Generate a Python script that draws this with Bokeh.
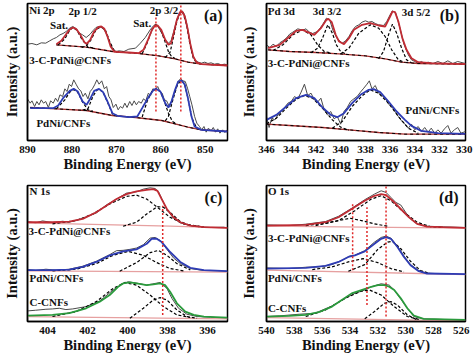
from bokeh.plotting import figure
from bokeh.models import Range1d, Label, SingleIntervalTicker, FixedTicker
from bokeh.layouts import row, column
from bokeh.embed import file_html
from bokeh.resources import INLINE

FONT = "Liberation Serif"
RED = "#c02c34"
BLUE = "#2e3cb4"
GREEN = "#2a9a3c"
GRAY = "#4a4a4a"
BG_RED = "#a83030"
PINK = "#e6a0a0"
VLINE = "#e02828"

# ---------------- Panel (a): Ni 2p ----------------
a1_raw = [(890.0,289),(889.0,291),(887.9,287),(886.9,293),(885.9,292),(885.0,299),(884.2,305),(883.5,309),(882.7,317),(882.0,321),(881.3,327),(880.5,337),(879.8,342),(879.0,335),(878.3,322),(877.6,317),(876.8,309),(875.9,319),(875.3,329),(874.6,339),(873.9,342),(873.1,337),(872.4,325),(871.6,297),(870.9,277),(870.1,267),(869.4,269),(868.3,267),(867.2,274),(865.7,277),(864.6,292),(863.5,309),(862.4,332),(861.6,345),(861.1,349),(860.5,339),(859.8,322),(859.0,302),(858.3,292),(857.7,299),(857.1,327),(856.4,362),(855.7,385),(855.2,389),(854.7,379),(854.2,352),(853.7,317),(853.1,267),(852.4,242),(851.6,235),(850.9,232),(850.1,235),(849.4,231),(848.7,233),(847.9,229),(847.2,231),(846.4,227),(845.7,229),(845.0,227)]
a1_fit = [(883.5,289),(882.4,299),(881.3,319),(880.5,333),(879.8,339),(879.0,334),(878.1,317),(877.2,295),(876.7,290),(875.9,302),(875.0,327),(874.0,341),(873.4,342),(872.7,335),(872.0,312),(871.3,282),(870.5,267),(869.4,265),(867.2,264),(865.0,262),(863.9,272),(862.9,302),(862.0,332),(861.3,345),(860.7,345),(859.9,332),(859.0,302),(858.3,287),(857.7,292),(857.1,322),(856.4,362),(855.7,385),(855.2,387),(854.6,372),(854.0,337),(853.4,292),(852.7,252),(852.0,235),(850.9,229),(847.9,227),(845.0,225)]
a1_bg = [(883.5,287),(876.8,280),(870.9,267),(865.7,262),(860.5,254),(856.8,245),(853.9,235),(850.9,229),(845.0,225)]
a1_comps = [
    [(883.1,287),(881.6,305),(880.5,331),(879.8,339),(878.9,331),(877.8,305),(876.4,281),(875.3,278)],
    [(877.8,279),(876.8,284),(875.7,302),(874.6,332),(873.4,342),(872.4,329),(871.5,297),(870.5,269),(869.8,266)],
    [(864.2,260),(863.1,292),(862.0,332),(861.1,347),(860.1,335),(859.2,302),(858.3,267),(857.6,252),(856.8,246)],
    [(859.0,249),(857.9,265),(857.2,307),(856.4,357),(855.6,385),(855.0,383),(854.2,347),(853.5,292),(852.7,247),(852.0,234)],
]
a2_raw = [(890.0,125),(889.4,112),(889.0,119),(888.4,102),(887.9,117),(887.4,107),(886.9,122),(886.4,112),(885.9,117),(885.3,99),(884.8,119),(884.2,112),(883.7,127),(883.2,117),(882.7,137),(882.1,132),(881.6,155),(881.1,147),(880.6,169),(880.1,162),(879.6,182),(879.0,167),(878.5,155),(878.0,149),(877.5,132),(877.0,142),(876.4,125),(875.9,147),(875.4,155),(874.9,167),(874.4,182),(873.9,169),(873.3,179),(872.7,155),(872.2,162),(871.7,132),(871.2,122),(870.7,99),(870.1,109),(869.6,92),(869.1,102),(868.6,97),(868.1,112),(867.6,99),(867.0,117),(866.5,105),(866.0,119),(865.5,107),(865.0,117),(864.4,112),(863.9,125),(863.4,119),(862.8,142),(862.3,135),(861.8,155),(861.3,152),(860.7,162),(860.2,147),(859.7,142),(859.2,122),(858.7,119),(858.1,102),(857.6,117),(857.1,139),(856.6,155),(856.1,177),(855.6,185),(855.0,179),(854.5,177),(854.0,157),(853.5,132),(853.0,107),(852.4,72),(851.9,52),(851.3,42),(850.8,32),(850.3,42),(849.8,25),(849.3,37),(848.7,29),(848.2,39),(847.7,25),(847.2,35),(846.7,22),(846.1,32),(845.6,24),(845.1,32)]
a2_fit = [(889.4,97),(884.2,97),(883.1,105),(882.0,127),(880.5,149),(879.6,155),(878.7,147),(877.6,117),(876.7,107),(875.9,125),(875.0,149),(873.9,155),(873.0,145),(872.0,117),(870.9,82),(869.8,74),(867.2,70),(865.3,72),(864.2,97),(862.7,132),(861.6,152),(861.1,155),(860.1,147),(859.0,112),(858.3,99),(857.6,117),(856.8,152),(856.1,177),(855.3,180),(854.6,167),(853.9,127),(853.1,72),(852.4,42),(850.9,32),(845.0,27)]
a2_bg = [(889.4,99),(883.5,95),(876.8,90),(870.9,75),(865.7,69),(859.8,60),(856.8,50),(853.9,40),(850.9,32),(845.0,27)]
a2_comps = [
    [(883.5,95),(881.6,122),(880.5,145),(879.6,153),(878.7,145),(877.6,115),(876.4,92),(875.3,88)],
    [(877.6,91),(876.4,95),(875.3,132),(874.4,151),(873.9,154),(873.0,145),(872.0,115),(870.9,80),(869.8,74)],
    [(864.2,70),(863.1,117),(862.0,147),(861.1,155),(860.1,147),(859.2,117),(858.3,82),(857.4,57),(856.4,49)],
    [(859.0,59),(858.3,72),(857.4,117),(856.4,162),(855.6,180),(854.7,172),(853.9,127),(853.0,67),(852.0,39)],
]
a_marks = [861.1, 855.5]
a_marks_lo = [87, 87]
a_marks_hi = [372, 411]

# ---------------- Panel (b): Pd 3d ----------------
b1_raw = [(346.00,287),(345.73,279),(345.47,289),(345.20,282),(344.93,293),(344.67,299),(344.40,307),(344.13,319),(343.87,325),(343.47,335),(343.07,331),(342.80,335),(342.53,325),(342.27,321),(341.87,327),(341.47,347),(341.15,367),(340.88,361),(340.61,329),(340.27,305),(339.87,292),(339.60,299),(339.33,312),(339.07,329),(338.80,342),(338.53,347),(338.27,355),(338.00,359),(337.73,355),(337.47,357),(337.20,351),(336.93,347),(336.53,345),(336.27,357),(336.00,377),(335.81,389),(335.55,383),(335.20,337),(334.88,289),(334.53,257),(334.27,242),(334.00,237),(333.73,231),(333.47,237),(333.20,231),(332.93,235),(332.53,231),(332.13,237),(331.73,231),(331.33,239),(330.93,231),(330.53,237),(329.90,231)]
b1_fit = [(345.87,277),(344.93,287),(344.13,312),(343.60,329),(343.07,332),(342.67,325),(342.13,317),(341.60,337),(341.15,362),(340.99,365),(340.72,355),(340.40,317),(340.13,297),(339.73,289),(339.33,307),(338.93,332),(338.27,347),(337.60,352),(336.93,345),(336.40,342),(336.00,372),(335.81,387),(335.60,385),(335.33,357),(335.01,307),(334.67,272),(334.27,247),(333.73,235),(332.67,232),(329.90,229)]
b1_bg = [(345.87,272),(344.13,267),(342.00,264),(340.13,260),(338.00,254),(336.40,245),(335.07,235),(333.73,231),(329.90,229)]
b1_comps = [
    [(345.47,270),(344.67,287),(343.87,317),(343.07,332),(342.40,317),(341.87,287),(341.33,267),(340.80,263)],
    [(342.40,263),(341.87,277),(341.47,307),(341.04,347),(340.67,322),(340.35,287),(340.00,267),(339.60,260)],
    [(340.00,260),(339.33,277),(338.53,322),(337.60,347),(336.93,337),(336.40,312),(335.87,272),(335.33,242),(334.80,234)],
    [(336.93,245),(336.53,267),(336.13,317),(335.81,349),(335.47,322),(335.07,277),(334.67,242),(334.27,233)],
]
b2_raw = [(346.00,72),(345.79,39),(345.57,67),(345.33,62),(345.07,77),(344.80,87),(344.53,99),(344.27,112),(344.00,117),(343.73,132),(343.47,125),(343.20,145),(342.93,169),(342.67,135),(342.40,142),(342.13,122),(341.87,115),(341.60,127),(341.33,92),(341.07,77),(340.80,87),(340.53,65),(340.27,72),(340.00,49),(339.73,87),(339.47,99),(339.20,117),(338.93,125),(338.67,132),(338.40,145),(338.13,157),(337.87,169),(337.68,179),(337.47,155),(337.20,165),(336.93,142),(336.67,135),(336.40,127),(336.13,109),(335.87,102),(335.60,87),(335.33,72),(335.07,59),(334.80,49),(334.53,37),(334.27,49),(334.00,32),(333.73,42),(333.47,27),(333.20,39),(332.93,25),(332.67,37),(332.40,22),(332.13,32),(331.87,22),(331.60,35),(331.33,45),(331.07,22),(330.80,32),(330.53,39),(330.27,22),(329.90,27)]
b2_fit = [(346.00,62),(345.20,77),(344.40,102),(343.60,127),(342.80,137),(342.13,127),(341.47,99),(340.80,77),(340.27,70),(339.73,82),(339.07,112),(338.40,137),(337.73,152),(337.33,154),(336.80,145),(336.13,117),(335.47,87),(334.80,62),(334.27,44),(333.47,29),(332.13,22),(329.90,20)]
b2_bg = [(346.00,49),(344.13,45),(341.47,39),(339.33,32),(336.93,24),(334.80,19),(329.90,19)]
b2_comps = [
    [(346.00,50),(345.20,67),(344.40,97),(343.60,124),(342.93,135),(342.27,127),(341.47,97),(340.67,62),(340.00,40),(339.33,31)],
    [(340.67,37),(339.87,57),(339.07,102),(338.27,134),(337.60,152),(336.93,142),(336.13,112),(335.33,72),(334.53,37),(333.73,22)],
]

# ---------------- Panel (c): N 1s ----------------
c1_raw = [(405.0,302),(404.59,298),(404.25,304),(403.75,299),(403.24,303),(402.91,300),(402.24,312),(401.56,328),(401.06,352),(400.55,370),(400.05,388),(399.55,392),(399.21,400),(398.87,404),(398.62,402),(398.45,392),(398.29,372),(398.03,338),(397.70,312),(397.36,298),(396.86,290),(396.35,287),(395.85,284),(395.18,285),(395.0,282)]
c1_fit = [(405.0,300),(403.75,300),(402.91,302),(402.24,310),(401.56,330),(401.06,350),(400.55,370),(400.05,385),(399.55,393),(399.04,398),(398.71,400),(398.50,395),(398.29,370),(398.03,340),(397.70,315),(397.36,300),(396.86,290),(396.18,285),(395.0,283)]
c1_bg = [(405.0,298),(401.22,293),(397.87,288),(395.0,283)]
c1_comps = [
    [(403.75,295),(402.57,305),(401.73,325),(400.89,355),(400.05,378),(399.55,382),(399.04,370),(398.50,345),(397.87,315),(397.19,295),(396.35,287)],
    [(400.22,288),(399.55,300),(399.04,325),(398.50,347),(398.20,345),(397.78,325),(397.36,302),(396.86,290),(396.18,285)],
]
c2_raw = [(405.0,157),(404.59,154),(404.08,158),(403.58,155),(402.91,158),(402.24,167),(401.56,182),(400.89,202),(400.55,214),(400.22,215),(399.88,218),(399.55,222),(399.21,232),(398.87,252),(398.62,254),(398.37,245),(398.03,218),(397.70,192),(397.36,175),(396.86,160),(396.18,154),(395.51,153),(395.0,151)]
c2_fit = [(405.0,155),(403.75,155),(402.91,157),(402.24,165),(401.56,180),(400.89,200),(400.22,212),(399.55,218),(399.04,235),(398.79,250),(398.54,250),(398.29,240),(397.87,210),(397.36,180),(396.86,162),(396.18,155),(395.0,152)]
c2_bg = [(405.0,153),(395.0,149)]
c2_comps = [
    [(403.75,153),(402.57,158),(401.56,175),(400.72,200),(399.97,212),(399.21,200),(398.54,178),(397.87,160),(397.19,153)],
    [(400.39,152),(399.55,178),(398.87,208),(398.45,215),(398.03,200),(397.53,175),(396.86,156)],
]
c3_raw = [(405.0,32),(404.59,34),(404.08,37),(403.75,38),(403.41,40),(403.08,36),(402.74,38),(402.07,45),(401.39,62),(400.72,95),(400.22,115),(399.97,120),(399.55,116),(399.04,110),(398.62,115),(398.37,118),(398.03,100),(397.78,70),(397.45,40),(397.03,22),(396.52,15),(395.85,13),(395.0,10)]
c3_fit = [(405.0,18),(403.75,20),(402.91,25),(402.07,40),(401.39,60),(400.89,80),(400.47,105),(400.22,115),(399.88,118),(399.55,115),(399.04,110),(398.71,112),(398.37,115),(398.12,110),(397.87,90),(397.53,55),(397.11,30),(396.69,20),(396.18,15),(395.0,12)]
c3_bg = [(405.0,15),(395.0,8)]
c3_comps = [
    [(403.75,15),(402.57,30),(401.56,60),(400.72,100),(400.13,118),(399.55,110),(398.87,80),(398.20,45),(397.53,20),(396.86,12)],
    [(399.88,10),(399.21,40),(398.71,65),(398.37,72),(398.03,65),(397.53,35),(397.03,15),(396.52,10)],
]
c_marks = [398.24]
c_marks_lo = [20]
c_marks_hi = [350]

# ---------------- Panel (d): O 1s ----------------
d1_raw = [(540.00,292),(538.35,290),(537.18,294),(535.76,302),(534.82,318),(533.88,342),(532.94,368),(532.24,385),(531.76,395),(531.41,390),(531.06,375),(530.71,360),(530.35,352),(530.00,330),(529.65,310),(529.18,295),(528.47,288),(527.29,286),(525.7,284)]
d1_fit = [(540.00,290),(537.18,292),(535.76,300),(534.82,315),(533.88,340),(532.94,365),(532.24,380),(531.76,385),(531.41,382),(530.94,365),(530.35,340),(529.76,315),(529.18,295),(528.47,287),(527.29,285),(525.7,283)]
d1_bg = [(540.00,288),(525.7,282)]
d1_comps = [
    [(537.18,290),(535.76,297),(534.82,305),(534.00,312),(533.18,305),(532.24,295),(531.29,288)],
    [(536.47,290),(534.82,305),(533.65,335),(532.47,370),(531.76,380),(531.06,365),(530.12,330),(529.18,300),(528.24,287),(527.29,284)],
]
d2_raw = [(540.00,162),(538.35,160),(537.18,164),(536.24,165),(535.29,172),(534.59,185),(534.00,198),(533.65,200),(532.94,214),(532.24,240),(531.76,254),(531.41,258),(531.06,252),(530.59,228),(530.12,198),(529.65,172),(529.06,154),(528.47,146),(527.29,144),(525.7,142)]
d2_fit = [(540.00,160),(537.18,162),(535.76,168),(534.82,180),(534.12,195),(533.65,200),(532.94,212),(532.24,235),(531.76,250),(531.41,255),(531.06,250),(530.59,225),(530.12,195),(529.65,170),(529.06,152),(528.47,145),(525.7,143)]
d2_bg = [(540.00,155),(525.7,142)]
d2_comps = [
    [(536.71,157),(535.29,165),(534.12,180),(533.06,190),(532.00,178),(531.06,160),(530.12,150)],
    [(534.12,152),(532.94,172),(532.00,218),(531.29,240),(530.94,242),(530.35,220),(529.65,182),(528.94,154),(528.24,145)],
]
d3_raw = [(540.00,15),(539.06,17),(537.65,22),(536.47,25),(536.24,30),(535.29,47),(534.35,70),(533.65,85),(532.94,95),(532.47,105),(531.76,114),(531.18,110),(530.82,95),(530.35,68),(529.88,40),(529.41,15),(528.71,8),(525.7,4)]
d3_fit = [(540.00,15),(538.35,17),(537.18,20),(536.24,28),(535.29,45),(534.59,65),(533.88,85),(533.18,95),(532.47,105),(532.00,110),(531.53,110),(531.18,105),(530.82,95),(530.35,70),(529.88,40),(529.41,18),(528.71,8),(525.7,5)]
d3_bg = [(540.00,12),(525.7,2)]
d3_comps = [
    [(537.18,15),(535.76,35),(534.35,70),(533.18,92),(532.59,95),(531.76,80),(530.82,45),(529.88,15),(528.94,5)],
    [(532.94,8),(532.24,30),(531.53,55),(531.06,60),(530.59,50),(529.88,20),(529.18,5)],
]
d_marks = [533.81, 532.78, 531.41]
d_marks_lo = [155, 50, 15]
d_marks_hi = [360, 345, 411]


def xs(pts):
    return [p[0] for p in pts]


def ys(pts):
    return [p[1] for p in pts]


def make_fig(xr, interval, width, height, left, right, top, bottom, ylab_standoff):
    p = figure(width=width, height=height, x_range=Range1d(*xr), y_range=Range1d(0, 411),
               output_backend="svg", toolbar_location=None,
               min_border_left=left, min_border_right=right,
               min_border_top=top, min_border_bottom=bottom)
    p.xgrid.visible = False
    p.ygrid.visible = False
    p.outline_line_color = "black"
    p.outline_line_width = 1.5
    p.outline_line_alpha = 1.0
    xa = p.xaxis[0]
    xa.ticker = SingleIntervalTicker(interval=interval, num_minor_ticks=0)
    xa.axis_label = "Binding Energy (eV)"
    xa.axis_label_text_font = FONT
    xa.axis_label_text_font_style = "bold"
    xa.axis_label_text_font_size = "14.5px"
    xa.axis_label_text_color = "#111111"
    xa.axis_label_standoff = 0
    xa.major_label_text_font = FONT
    xa.major_label_text_font_style = "bold"
    xa.major_label_text_font_size = "11px"
    xa.major_label_text_color = "#111111"
    xa.major_label_standoff = 5
    xa.major_tick_in = 0
    xa.major_tick_out = 0
    xa.minor_tick_in = 0
    xa.minor_tick_out = 0
    xa.axis_line_width = 1.5
    ya = p.yaxis[0]
    ya.ticker = FixedTicker(ticks=[])
    ya.axis_label = "Intensity (a.u.)"
    ya.axis_label_text_font = FONT
    ya.axis_label_text_font_style = "bold"
    ya.axis_label_text_font_size = "14.5px"
    ya.axis_label_text_color = "#111111"
    ya.axis_label_standoff = ylab_standoff
    ya.major_label_standoff = 0
    ya.major_tick_in = 0
    ya.major_tick_out = 0
    ya.axis_line_width = 1.5
    return p


def spectrum(p, raw, fit, bg, comps, color, dark_bg):
    p.line(xs(raw), ys(raw), line_color=GRAY, line_width=1)
    if dark_bg:
        p.line(xs(bg), ys(bg), line_color=BG_RED, line_width=1.3)
        p.line(xs(bg), ys(bg), line_color="black", line_width=1, line_dash="3 3")
    else:
        p.line(xs(bg), ys(bg), line_color=PINK, line_width=1.3)
    for c in comps:
        p.line(xs(c), ys(c), line_color="black", line_width=1.2, line_dash="3 2")
    p.line(xs(fit), ys(fit), line_color=color, line_width=1.8)


def marks(p, ev, lo, hi):
    p.segment(x0=ev, y0=lo, x1=ev, y1=hi, line_color=VLINE, line_width=1.5, line_dash="2 2")


def label(p, x, y, text, size="11px", align="left"):
    p.add_layout(Label(x=x, y=y, text=text, text_font=FONT, text_font_size=size,
                       text_font_style="bold", text_color="#111111",
                       text_align=align, text_baseline="middle"))


# (a)
pa = make_fig((890, 845), 10, 237, 175, 24, 10, 3, 35, 8)
spectrum(pa, a1_raw, a1_fit, a1_bg, a1_comps, RED, True)
spectrum(pa, a2_raw, a2_fit, a2_bg, a2_comps, BLUE, True)
marks(pa, a_marks, a_marks_lo, a_marks_hi)
label(pa, 889.6, 392, "Ni 2p")
label(pa, 877.6, 389, "2p 1/2", align="center")
label(pa, 882.9, 347, "Sat.", align="center")
label(pa, 864.2, 352, "Sat.", align="center")
label(pa, 859.3, 392, "2p 3/2", align="center")
label(pa, 848.2, 375, "(a)", size="16px", align="center")
label(pa, 889.6, 242, "3-C-PdNi@CNFs")
label(pa, 888.0, 54, "PdNi/CNFs")

# (b)
pb = make_fig((346, 329.9), 2, 237, 175, 27, 9, 3, 35, 10)
spectrum(pb, b1_raw, b1_fit, b1_bg, b1_comps, RED, True)
spectrum(pb, b2_raw, b2_fit, b2_bg, b2_comps, BLUE, True)
label(pb, 345.9, 389, "Pd 3d")
label(pb, 341.1, 389, "3d 3/2", align="center")
label(pb, 333.9, 387, "3d 5/2", align="center")
label(pb, 331.2, 375, "(b)", size="16px", align="center")
label(pb, 345.9, 232, "3-C-PdNi@CNFs")
label(pb, 330.4, 92, "PdNi/CNFs", align="right")

# (c)
pc = make_fig((405, 395), 2, 237, 180, 24, 10, 10, 34, 8)
spectrum(pc, c1_raw, c1_fit, c1_bg, c1_comps, RED, False)
spectrum(pc, c2_raw, c2_fit, c2_bg, c2_comps, BLUE, False)
spectrum(pc, c3_raw, c3_fit, c3_bg, c3_comps, GREEN, False)
marks(pc, c_marks, c_marks_lo, c_marks_hi)
label(pc, 404.9, 395, "N 1s")
label(pc, 395.7, 374, "(c)", size="16px", align="center")
label(pc, 404.95, 272, "3-C-PdNi@CNFs")
label(pc, 404.9, 132, "PdNi/CNFs")
label(pc, 404.9, 60, "C-CNFs")

# (d)
pd_ = make_fig((540, 525.7), 2, 237, 180, 27, 9, 10, 34, 10)
spectrum(pd_, d1_raw, d1_fit, d1_bg, d1_comps, RED, False)
spectrum(pd_, d2_raw, d2_fit, d2_bg, d2_comps, BLUE, False)
spectrum(pd_, d3_raw, d3_fit, d3_bg, d3_comps, GREEN, False)
marks(pd_, d_marks, d_marks_lo, d_marks_hi)
label(pd_, 539.9, 395, "O 1s")
label(pd_, 526.9, 374, "(d)", size="16px", align="center")
label(pd_, 539.9, 252, "3-C-PdNi@CNFs")
label(pd_, 539.9, 130, "PdNi/CNFs")
label(pd_, 539.9, 40, "C-CNFs")

layout = column(row(pa, pb, spacing=0), row(pc, pd_, spacing=0), spacing=0)
open("out.html", "w").write(file_html(layout, INLINE))
